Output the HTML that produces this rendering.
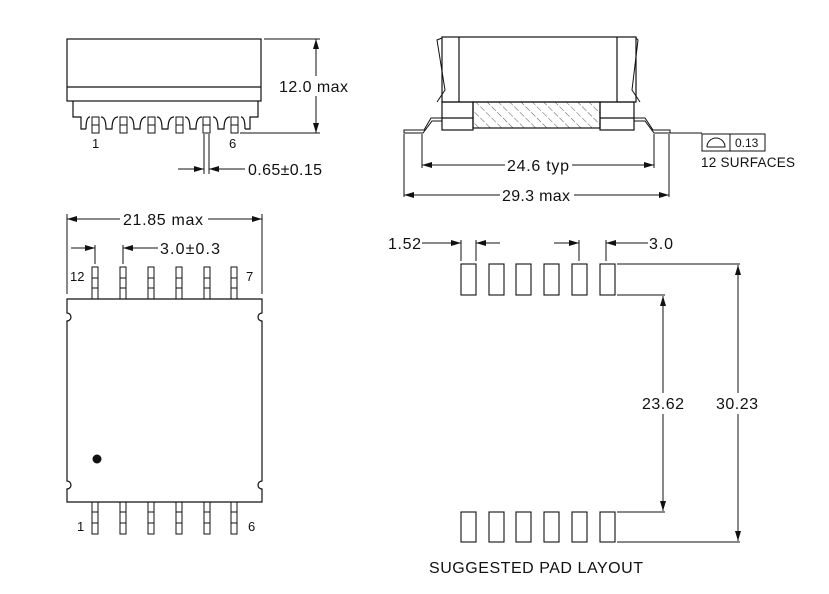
<!DOCTYPE html>
<html><head><style>
body{margin:0;background:#fff;}
svg{display:block;}
text{font-family:"Liberation Sans",sans-serif;fill:#111;}
</style></head><body>
<svg width="829" height="594" viewBox="0 0 829 594" xmlns="http://www.w3.org/2000/svg">
<defs>
<marker id="a" viewBox="0 0 10 6" refX="10" refY="3" markerWidth="10" markerHeight="6" orient="auto-start-reverse" markerUnits="userSpaceOnUse"><path d="M0,0L10,3L0,6z" fill="#111"/></marker>
<pattern id="h" width="8" height="8" patternUnits="userSpaceOnUse" patternTransform="rotate(-45)"><line x1="0" y1="0" x2="0" y2="8" stroke="#444" stroke-width="0.9" stroke-dasharray="5 2"/></pattern>
</defs>
<g fill="none" stroke="#111" stroke-width="1.2">
<rect x="67" y="39" width="194" height="62"/>
<line x1="67" y1="87" x2="261" y2="87"/>
<path d="M73,101 V117 H81 V129 H86 M258,101 V117 H250 V129 H245"/>
<path d="M86,129 Q86,117 90,117 M101,117 Q106,117 106,129 H112 Q112,117 118,117 M129,117 Q134,117 134,129 H140 Q140,117 146,117 M157,117 Q162,117 162,129 H168 Q168,117 174,117 M185,117 Q190,117 190,129 H196 Q196,117 202,117 M213,117 Q218,117 218,129 H224 Q224,117 230,117 M241,117 Q245,117 245,129"/>
<g stroke-width="1">
<rect x="92" y="117" width="7" height="16"/><line x1="92" y1="125" x2="99" y2="125"/>
<rect x="120" y="117" width="7" height="16"/><line x1="120" y1="125" x2="127" y2="125"/>
<rect x="148" y="117" width="7" height="16"/><line x1="148" y1="125" x2="155" y2="125"/>
<rect x="176" y="117" width="7" height="16"/><line x1="176" y1="125" x2="183" y2="125"/>
<rect x="203" y="117" width="7" height="16"/><line x1="203" y1="125" x2="210" y2="125"/>
<rect x="231" y="117" width="7" height="16"/><line x1="231" y1="125" x2="238" y2="125"/>
</g>
<line x1="264" y1="39" x2="320" y2="39" stroke-width="1"/>
<line x1="240" y1="133" x2="320" y2="133" stroke-width="1"/>
<line x1="316" y1="39" x2="316" y2="76" marker-start="url(#a)" stroke-width="1"/>
<line x1="316" y1="96" x2="316" y2="133" marker-end="url(#a)" stroke-width="1"/>
<line x1="204" y1="134" x2="204" y2="174" stroke-width="1"/>
<line x1="209" y1="134" x2="209" y2="174" stroke-width="1"/>
<line x1="178" y1="169" x2="204" y2="169" marker-end="url(#a)" stroke-width="1"/>
<line x1="245" y1="169" x2="209" y2="169" marker-end="url(#a)" stroke-width="1"/>

<rect x="442" y="37" width="194" height="65"/>
<line x1="459" y1="37" x2="459" y2="102"/>
<line x1="617" y1="37" x2="617" y2="102"/>
<path d="M442,38 L437,40 L445,90 L437,102 M636,38 L638,40 L632,90 L640,102" stroke-width="1"/>
<rect x="442" y="102" width="31" height="28"/>
<line x1="442" y1="118" x2="473" y2="118"/>
<rect x="473" y="102" width="127" height="26" fill="url(#h)"/>
<rect x="600" y="102" width="34" height="28"/>
<line x1="600" y1="118" x2="634" y2="118"/>
<path d="M442,118 H431 L424,130 H404 V133 H423 L432,121 H442" stroke-width="1"/>
<path d="M634,118 H645 L653,130 H670 V133 H654 L645,121 H634" stroke-width="1"/>
<line x1="670" y1="133" x2="702" y2="133" stroke-width="1"/>
<line x1="404" y1="134" x2="404" y2="197" stroke-width="1"/>
<line x1="669" y1="134" x2="669" y2="197" stroke-width="1"/>
<line x1="422" y1="134" x2="422" y2="168" stroke-width="1"/>
<line x1="654" y1="134" x2="654" y2="168" stroke-width="1"/>
<line x1="505" y1="165" x2="422" y2="165" marker-end="url(#a)" stroke-width="1"/>
<line x1="572" y1="165" x2="654" y2="165" marker-end="url(#a)" stroke-width="1"/>
<line x1="500" y1="195" x2="404" y2="195" marker-end="url(#a)" stroke-width="1"/>
<line x1="574" y1="195" x2="669" y2="195" marker-end="url(#a)" stroke-width="1"/>
<rect x="702" y="134" width="63" height="17" stroke-width="1"/>
<line x1="730" y1="134" x2="730" y2="151" stroke-width="1"/>
<path d="M707,147 H725 A9,9 0 0 0 707,147" stroke-width="1"/>

<path d="M67,299 H262 V313 A4,4 0 0 0 262,321 V481 A4,4 0 0 0 262,489 V502 H67 V489 A4,4 0 0 0 67,481 V321 A4,4 0 0 0 67,313 Z"/>
<g stroke-width="1">
<g id="tp">
<rect x="92" y="267" width="6" height="32"/><line x1="92" y1="278" x2="98" y2="278"/><line x1="92" y1="288" x2="98" y2="288"/>
</g>
<use href="#tp" x="28"/><use href="#tp" x="56"/><use href="#tp" x="84"/><use href="#tp" x="112"/><use href="#tp" x="139"/>
<g id="bp">
<rect x="92" y="502" width="6" height="32"/><line x1="92" y1="512" x2="98" y2="512"/><line x1="92" y1="523" x2="98" y2="523"/>
</g>
<use href="#bp" x="28"/><use href="#bp" x="56"/><use href="#bp" x="84"/><use href="#bp" x="112"/><use href="#bp" x="139"/>
<line x1="67" y1="214" x2="67" y2="294"/>
<line x1="262" y1="214" x2="262" y2="294"/>
<line x1="120" y1="219" x2="67" y2="219" marker-end="url(#a)"/>
<line x1="208" y1="219" x2="262" y2="219" marker-end="url(#a)"/>
<line x1="95" y1="245" x2="95" y2="264"/>
<line x1="123" y1="245" x2="123" y2="264"/>
<line x1="71" y1="248" x2="95" y2="248" marker-end="url(#a)"/>
<line x1="158" y1="248" x2="123" y2="248" marker-end="url(#a)"/>
</g>
<circle cx="97" cy="459" r="4.5" fill="#111" stroke="none"/>

<g stroke-width="1.1">
<rect x="461" y="264" width="15" height="31"/><rect x="489" y="264" width="15" height="31"/><rect x="516" y="264" width="15" height="31"/><rect x="544" y="264" width="15" height="31"/><rect x="572" y="264" width="15" height="31"/><rect x="600" y="264" width="15" height="31"/>
<rect x="461" y="512" width="15" height="30"/><rect x="489" y="512" width="15" height="30"/><rect x="516" y="512" width="15" height="30"/><rect x="544" y="512" width="15" height="30"/><rect x="572" y="512" width="15" height="30"/><rect x="600" y="512" width="15" height="30"/>
</g>
<g stroke-width="1">
<line x1="617" y1="264" x2="740" y2="264"/>
<line x1="617" y1="542" x2="740" y2="542"/>
<line x1="617" y1="295" x2="665" y2="295"/>
<line x1="617" y1="512" x2="665" y2="512"/>
<line x1="663" y1="393" x2="663" y2="296" marker-end="url(#a)"/>
<line x1="663" y1="414" x2="663" y2="511" marker-end="url(#a)"/>
<line x1="738" y1="393" x2="738" y2="265" marker-end="url(#a)"/>
<line x1="738" y1="414" x2="738" y2="541" marker-end="url(#a)"/>
<line x1="461" y1="240" x2="461" y2="261"/>
<line x1="476" y1="240" x2="476" y2="261"/>
<line x1="579" y1="240" x2="579" y2="261"/>
<line x1="606" y1="240" x2="606" y2="261"/>
<line x1="422" y1="243" x2="461" y2="243" marker-end="url(#a)"/>
<line x1="500" y1="243" x2="476" y2="243" marker-end="url(#a)"/>
<line x1="554" y1="243" x2="579" y2="243" marker-end="url(#a)"/>
<line x1="648" y1="243" x2="606" y2="243" marker-end="url(#a)"/>
</g>
</g>
<g font-size="16">
<text x="279" y="92" textLength="69">12.0 max</text>
<text x="248" y="175" textLength="74">0.65±0.15</text>
<text x="507" y="171" textLength="62">24.6 typ</text>
<text x="502" y="201" textLength="68">29.3 max</text>
<text x="123" y="225" textLength="80">21.85 max</text>
<text x="160" y="254" textLength="60">3.0±0.3</text>
<text x="388" y="249" textLength="33">1.52</text>
<text x="649" y="249" textLength="24">3.0</text>
<text x="642" y="409" textLength="42">23.62</text>
<text x="716" y="409" textLength="42">30.23</text>
<text x="429" y="573" textLength="214">SUGGESTED PAD LAYOUT</text>
</g>
<g font-size="13">
<text x="92" y="148">1</text>
<text x="229" y="148">6</text>
<text x="70" y="281">12</text>
<text x="246" y="281">7</text>
<text x="77" y="531">1</text>
<text x="248" y="531">6</text>
<text x="735" y="147" font-size="12">0.13</text>
<text x="701" y="167" font-size="13.5" textLength="94">12 SURFACES</text>
</g>
</svg>
</body></html>
